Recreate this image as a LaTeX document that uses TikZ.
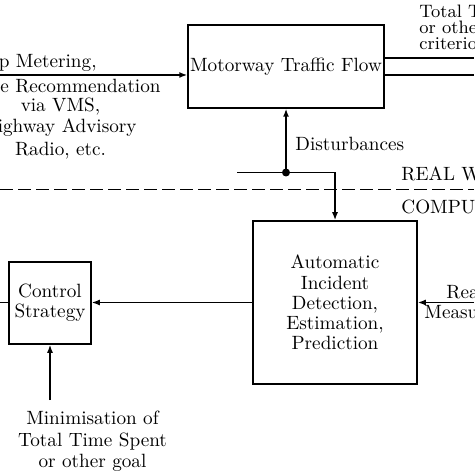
\documentclass[tikz,border=0pt]{standalone}
\usetikzlibrary{arrows.meta}
\tikzset{
  box/.style={draw, line width=0.75pt, inner sep=0pt, align=center},
  arr/.style={line width=0.75pt, -{Latex[length=4pt,width=3pt]}},
  ln/.style={line width=0.75pt},
  lbl/.style={inner sep=0pt, anchor=base west},
  lble/.style={inner sep=0pt, anchor=base east},
  lblc/.style={inner sep=0pt, anchor=base},
  border/.style={line width=0.45pt, dash pattern=on 6.5pt off 2.5pt}
}
\begin{document}
\begin{tikzpicture}[x=0.5pt,y=-0.5pt, font=\fontsize{9.6}{10.1}\selectfont]
\useasboundingbox (0,0) rectangle (474,474);
\clip (0,0) rectangle (474,474);
% boxes
\node[box, minimum width=98pt, minimum height=41.5pt] (mtf) at (286,66.5) {Motorway Traffic Flow};
\node[box, minimum width=82pt, minimum height=81.5pt] (aid) at (335,302.5) {Automatic\\Incident\\Detection,\\Estimation,\\Prediction};
\node[box, minimum width=41pt, minimum height=41pt] (cs) at (50,303) {Control\\Strategy};
% control input to motorway
\coordinate (inL) at (0,75);
\draw[arr] (inL) -- (mtf.west |- inL);
\node[lble] (t1) at (97,68) {p Metering,};
\node[lble] (t2) at (161,93) {e Recommendation};
\node[lblc] (t3) at (60.5,112) {via VMS,};
\node[lble] (t4) at (137,133) {ighway Advisory};
\node[lblc] (t5) at (60.5,155.5) {Radio, etc.};
% outputs of motorway
\coordinate (o1) at (474,58);
\coordinate (o2) at (474,75);
\draw[ln] (mtf.east |- o1) -- (o1);
\draw[ln] (mtf.east |- o2) -- (o2);
\node[lbl, font=\fontsize{9}{8}\selectfont] (c1) at (419,18) {Total T};
\node[lbl, font=\fontsize{9}{8}\selectfont] (c2) at (419,34) {or othe};
\node[lbl, font=\fontsize{9}{8}\selectfont] (c3) at (419,50) {criterio};
% disturbances
\coordinate (j) at (286,172.5);
\coordinate (dL) at (237,172.5);
\draw[arr] (j) -- (mtf.south);
\draw[ln] (dL) -- (j);
\draw[arr] (j) -| (aid.north);
\fill (j) circle (2pt);
\node[lbl] (dist) at (295,151) {Disturbances};
% real world / computer border
\coordinate (bL) at (0,189);
\coordinate (bR) at (474,189);
\draw[border] (bL) -- (bR);
\node[lbl] (rw) at (401,181) {REAL W};
\node[lbl] (cw) at (401,214) {COMPU};
% measurements
\coordinate (rm) at (474,302.5);
\draw[arr] (rm) -- (aid.east);
\node[lbl] (m1) at (446,298.5) {Rea};
\node[lbl] (m2) at (424,318) {Measu};
% AID to control strategy
\draw[arr] (aid.west) -- (cs.east |- aid.west);
\coordinate (outL) at (0,302.5);
\draw[ln] (cs.west |- outL) -- (outL);
% goal
\coordinate (mg) at (50,400);
\draw[arr] (mg) -- (cs.south);
\node[inner sep=0pt, align=center, anchor=north, font=\fontsize{9.6}{10.6}\selectfont] (goal) at (92.5,411) {Minimisation of\\Total Time Spent\\or other goal};
\end{tikzpicture}
\end{document}
